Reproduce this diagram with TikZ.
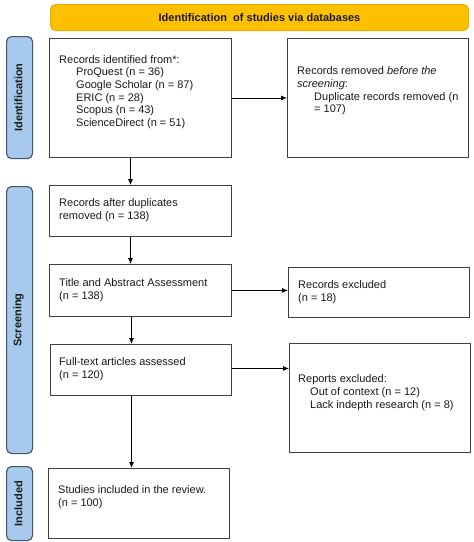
\documentclass[tikz,border=0pt]{standalone}
\usepackage{fontspec}
\setmainfont{Liberation Sans}
\usetikzlibrary{arrows.meta,calc}
\definecolor{bannerfill}{HTML}{FFC000}
\definecolor{bannerdraw}{HTML}{E9AE00}
\definecolor{sidefill}{HTML}{A7C9EC}
\definecolor{sidedraw}{HTML}{44546A}
\definecolor{boxdraw}{HTML}{404040}
\definecolor{txtcol}{HTML}{1A1A1A}
\tikzset{
  box/.style={draw=boxdraw, line width=0.9pt, fill=white, anchor=north west, inner sep=0pt},
  side/.style={draw=sidedraw, fill=sidefill, line width=1.1pt, rounded corners=5pt, anchor=north west, inner sep=0pt},
  sidelabel/.style={rotate=90, font=\fontsize{11}{12}\selectfont\bfseries, text=txtcol, inner sep=0pt},
  txt/.style={anchor=north west, align=left, inner sep=0pt, text=txtcol, font=\fontsize{11}{12.7}\selectfont},
  arr/.style={-{Latex[length=6pt,width=5pt]}, line width=0.8pt, draw=black}
}
\begin{document}
\begin{tikzpicture}[x=1pt,y=-1pt]
\useasboundingbox (0,0) rectangle (474,542);
% banner
\node[draw=bannerdraw, fill=bannerfill, line width=1pt, rounded corners=5pt, anchor=north west, minimum width=418pt, minimum height=26pt, inner sep=0pt] (banner) at (50,4) {};
\node[font=\fontsize{11}{12}\selectfont\bfseries, text=txtcol, inner sep=0pt] (bannertxt) at (banner.center) {Identification\ \ of studies via databases};
% side bars
\node[side, minimum width=26pt, minimum height=122pt] (s1) at (6,36) {};
\node[sidelabel] (s1t) at ([xshift=-1pt]s1.center) {Identification};
\node[side, minimum width=26pt, minimum height=267pt] (s2) at (6,186) {};
\node[sidelabel] (s2t) at ([xshift=-1pt]s2.center) {Screening};
\node[side, minimum width=26pt, minimum height=74pt] (s3) at (6,466) {};
\node[sidelabel] (s3t) at ([xshift=-1pt]s3.center) {Included};
% boxes
\node[box, minimum width=182pt, minimum height=119pt] (b1) at (49,38) {};
\node[box, minimum width=181pt, minimum height=119pt] (b2) at (287,38) {};
\node[box, minimum width=182pt, minimum height=51pt] (b3) at (49,185) {};
\node[box, minimum width=182pt, minimum height=52pt] (b4) at (49,264) {};
\node[box, minimum width=181pt, minimum height=50pt] (b5) at (288,267) {};
\node[box, minimum width=181pt, minimum height=51pt] (b6) at (50,344) {};
\node[box, minimum width=181pt, minimum height=109pt] (b7) at (289,343) {};
\node[box, minimum width=181pt, minimum height=70pt] (b8) at (48,468) {};
% texts
\node[txt] (t1) at (59,55) {Records identified from*:\\
\hspace*{17pt}ProQuest (n = 36)\\
\hspace*{17pt}Google Scholar (n = 87)\\
\hspace*{17pt}ERIC (n = 28)\\
\hspace*{17pt}Scopus (n = 43)\\
\hspace*{17pt}ScienceDirect (n = 51)};
\node[txt] (t2) at (297,66.5) {Records removed \textit{before the}\\
\textit{screening}:\\
\hspace*{17pt}Duplicate records removed (n\\
\hspace*{17pt}= 107)};
\node[txt] (t3) at (59,198.5) {Records after duplicates\\removed (n = 138)};
\node[txt] (t4) at (59,278.5) {Title and Abstract Assessment\\(n = 138)};
\node[txt] (t5) at (298,280.5) {Records excluded\\(n = 18)};
\node[txt] (t6) at (59,357.5) {Full-text articles assessed\\(n = 120)};
\node[txt] (t7) at (298,374.5) {Reports excluded:\\
\hspace*{12pt}Out of context (n = 12)\\
\hspace*{12pt}Lack indepth research (n = 8)};
\node[txt] (t8) at (58,485.5) {Studies included in the review.\\(n = 100)};
% connectors
\coordinate (colA) at (130.5,0);
\coordinate (colB) at (131.5,0);
\draw[arr] (b1.east) -- (b2.west);
\draw[arr] (b1.south -| colA) -- (b3.north -| colA);
\draw[arr] (b3.south -| colA) -- (b4.north -| colA);
\draw[arr] (b4.east) -- (b4.east -| b5.west);
\draw[arr] (b4.south -| colB) -- (b6.north -| colB);
\draw[arr] ([yshift=1.5pt]b6.east) -- ([yshift=1.5pt]b6.east -| b7.west);
\draw[arr] (b6.south -| colB) -- (b8.north -| colB);
\end{tikzpicture}
\end{document}
